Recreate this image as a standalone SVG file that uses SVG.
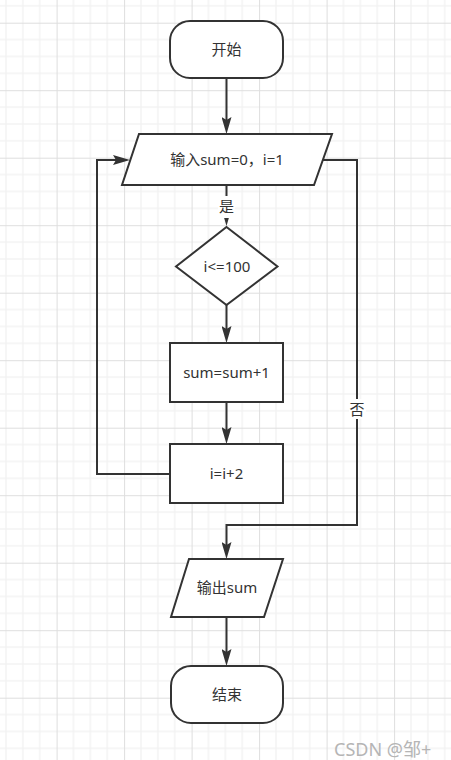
<svg xmlns="http://www.w3.org/2000/svg" width="451" height="760" viewBox="0 0 451 760">
  <style>
    .shape { fill: #ffffff; stroke: #333333; stroke-width: 2; }
    .conn { fill: none; stroke: #333333; stroke-width: 2; }
    .label { font-family: "Noto Sans", "Noto Sans CJK SC", sans-serif; font-size: 15px; fill: #333333; text-anchor: middle; }
    .wm { font-family: "Noto Sans", "Noto Sans CJK SC", sans-serif; font-size: 18px; fill: #b5b5b5; }
    .lbg { fill: #ffffff; stroke: none; }
    .minor { stroke: #eeeeee; stroke-width: 1; }
    .major { stroke: #dedede; stroke-width: 1; }
  </style>
  <defs>
    <pattern id="grid" patternUnits="userSpaceOnUse" x="56.6" y="22.7" width="67.5" height="67.5">
      <line class="minor" x1="16.875" y1="0" x2="16.875" y2="67.5"/>
      <line class="minor" x1="33.75" y1="0" x2="33.75" y2="67.5"/>
      <line class="minor" x1="50.625" y1="0" x2="50.625" y2="67.5"/>
      <line class="minor" x1="0" y1="16.875" x2="67.5" y2="16.875"/>
      <line class="minor" x1="0" y1="33.75" x2="67.5" y2="33.75"/>
      <line class="minor" x1="0" y1="50.625" x2="67.5" y2="50.625"/>
      <line class="major" x1="0.5" y1="0" x2="0.5" y2="67.5"/>
      <line class="major" x1="0" y1="0.5" x2="67.5" y2="0.5"/>
    </pattern>
    <marker id="arrow" markerUnits="userSpaceOnUse" viewBox="0 0 17 10" refX="7" refY="5" markerWidth="17" markerHeight="10" orient="auto">
      <path d="M0,0 L17,5 L0,10 L3,5 Z" fill="#333333"/>
    </marker>
  </defs>

  <rect x="0" y="0" width="451" height="760" fill="#ffffff"/>
  <rect x="0" y="0" width="451" height="760" fill="url(#grid)"/>

  <g id="connectors">
    <path class="conn" d="M226.5,78 V124" marker-end="url(#arrow)"/>
    <path class="conn" d="M226.5,185 V216" marker-end="url(#arrow)"/>
    <path class="conn" d="M226.5,305 V333" marker-end="url(#arrow)"/>
    <path class="conn" d="M226.5,402 V434" marker-end="url(#arrow)"/>
    <path class="conn" d="M170,474 H97 V160 H120" marker-end="url(#arrow)"/>
    <path class="conn" d="M323,160 H357 V525 H226.5 V549" marker-end="url(#arrow)"/>
    <path class="conn" d="M226.5,617 V656" marker-end="url(#arrow)"/>
    <rect class="lbg" x="218" y="196" width="17" height="22"/>
    <text class="label" x="226.5" y="211.5">是</text>
    <rect class="lbg" x="349" y="399" width="17" height="20"/>
    <text class="label" x="357" y="414.5">否</text>
  </g>

  <g id="start">
    <rect class="shape" x="170" y="21" width="113" height="57" rx="20" ry="20"/>
    <text class="label" x="226.5" y="55">开始</text>
  </g>
  <g id="input">
    <polygon class="shape" points="139,134 332,134 314,185 122,185"/>
    <text class="label" x="227" y="165">输入sum=0，i=1</text>
  </g>
  <g id="condition">
    <polygon class="shape" points="226.5,227 277.5,266.5 226.5,305 176,266.5"/>
    <text class="label" x="227" y="272">i&lt;=100</text>
  </g>
  <g id="sum-step">
    <rect class="shape" x="170" y="343" width="113" height="59"/>
    <text class="label" x="226.5" y="377.5">sum=sum+1</text>
  </g>
  <g id="i-step">
    <rect class="shape" x="170" y="444" width="113" height="59"/>
    <text class="label" x="226.5" y="478.5">i=i+2</text>
  </g>
  <g id="output">
    <polygon class="shape" points="189,559 283,559 264,617 171,617"/>
    <text class="label" x="227" y="593">输出sum</text>
  </g>
  <g id="end">
    <rect class="shape" x="171" y="666" width="112" height="57" rx="20" ry="20"/>
    <text class="label" x="227" y="700">结束</text>
  </g>

  <text class="wm" x="334" y="756">CSDN @邹+</text>
</svg>
